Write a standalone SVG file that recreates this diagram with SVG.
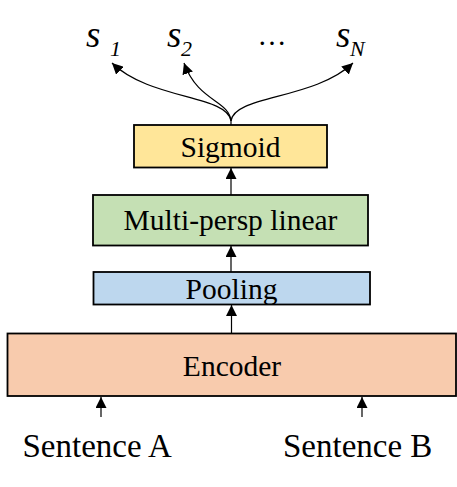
<svg xmlns="http://www.w3.org/2000/svg" width="457" height="487" viewBox="0 0 457 487">
<defs>
<style>
.box{stroke:#000;stroke-width:1.8}
.lbl{font-family:"Liberation Serif","Times New Roman",serif;font-size:29.5px;fill:#000;text-anchor:middle}
.sent{font-family:"Liberation Serif","Times New Roman",serif;font-size:33px;fill:#000}
.out{font-family:"Liberation Serif","Times New Roman",serif;font-style:italic;fill:#000}
.con{fill:none;stroke:#000;stroke-width:1.2}
</style>
<marker id="ah" viewBox="0 0 10 10" refX="10" refY="5" markerWidth="11" markerHeight="11" markerUnits="userSpaceOnUse" orient="auto">
<path d="M0,0 L10,5 L0,10 Z" fill="#000"/>
</marker>
</defs>
<rect width="457" height="487" fill="#fff"/>
<g id="connectors">
<line class="con" x1="231" y1="195" x2="231" y2="168" marker-end="url(#ah)"/>
<line class="con" x1="231" y1="272" x2="231" y2="246" marker-end="url(#ah)"/>
<line class="con" x1="231.5" y1="334" x2="231.5" y2="305" marker-end="url(#ah)"/>
<line class="con" x1="101" y1="417" x2="101" y2="397" marker-end="url(#ah)"/>
<line class="con" x1="362" y1="417" x2="362" y2="397" marker-end="url(#ah)"/>
<path class="con" d="M231,125 L231,121 C228,95 150,100 112,63" marker-end="url(#ah)"/>
<path class="con" d="M231,121 C229,100 198,102 184,63" marker-end="url(#ah)"/>
<path class="con" d="M231,121 C234,95 314,100 353,63" marker-end="url(#ah)"/>
</g>
<g id="sigmoid">
<rect class="box" x="134" y="125" width="193" height="42.5" fill="#FFE699"/>
<text class="lbl" x="230.5" y="156.5">Sigmoid</text>
</g>
<g id="multi">
<rect class="box" x="93" y="195" width="275" height="50.5" fill="#C5E0B4"/>
<text class="lbl" x="230.5" y="230">Multi-persp linear</text>
</g>
<g id="pooling">
<rect class="box" x="93.5" y="272" width="276.5" height="32.5" fill="#BDD7EE"/>
<text class="lbl" x="231.5" y="299">Pooling</text>
</g>
<g id="encoder">
<rect class="box" x="7.5" y="333.5" width="448.5" height="62.5" fill="#F8CBAD"/>
<text class="lbl" x="232" y="376">Encoder</text>
</g>
<g id="sentA"><text class="sent" x="22.5" y="457">Sentence A</text></g>
<g id="sentB"><text class="sent" x="283" y="457">Sentence B</text></g>
<g id="outputs">
<text class="out" font-size="37" x="86" y="47">s<tspan x="110" y="56" font-size="22">1</tspan></text>
<text class="out" font-size="37" x="167" y="47">s<tspan x="181" y="56" font-size="22">2</tspan></text>
<text class="out" font-size="37" x="336" y="47">s<tspan x="350" y="56" font-size="22">N</tspan></text>
<text font-family="Liberation Serif, Times New Roman, serif" font-size="29" x="257.5" y="45">…</text>
</g>
</svg>
